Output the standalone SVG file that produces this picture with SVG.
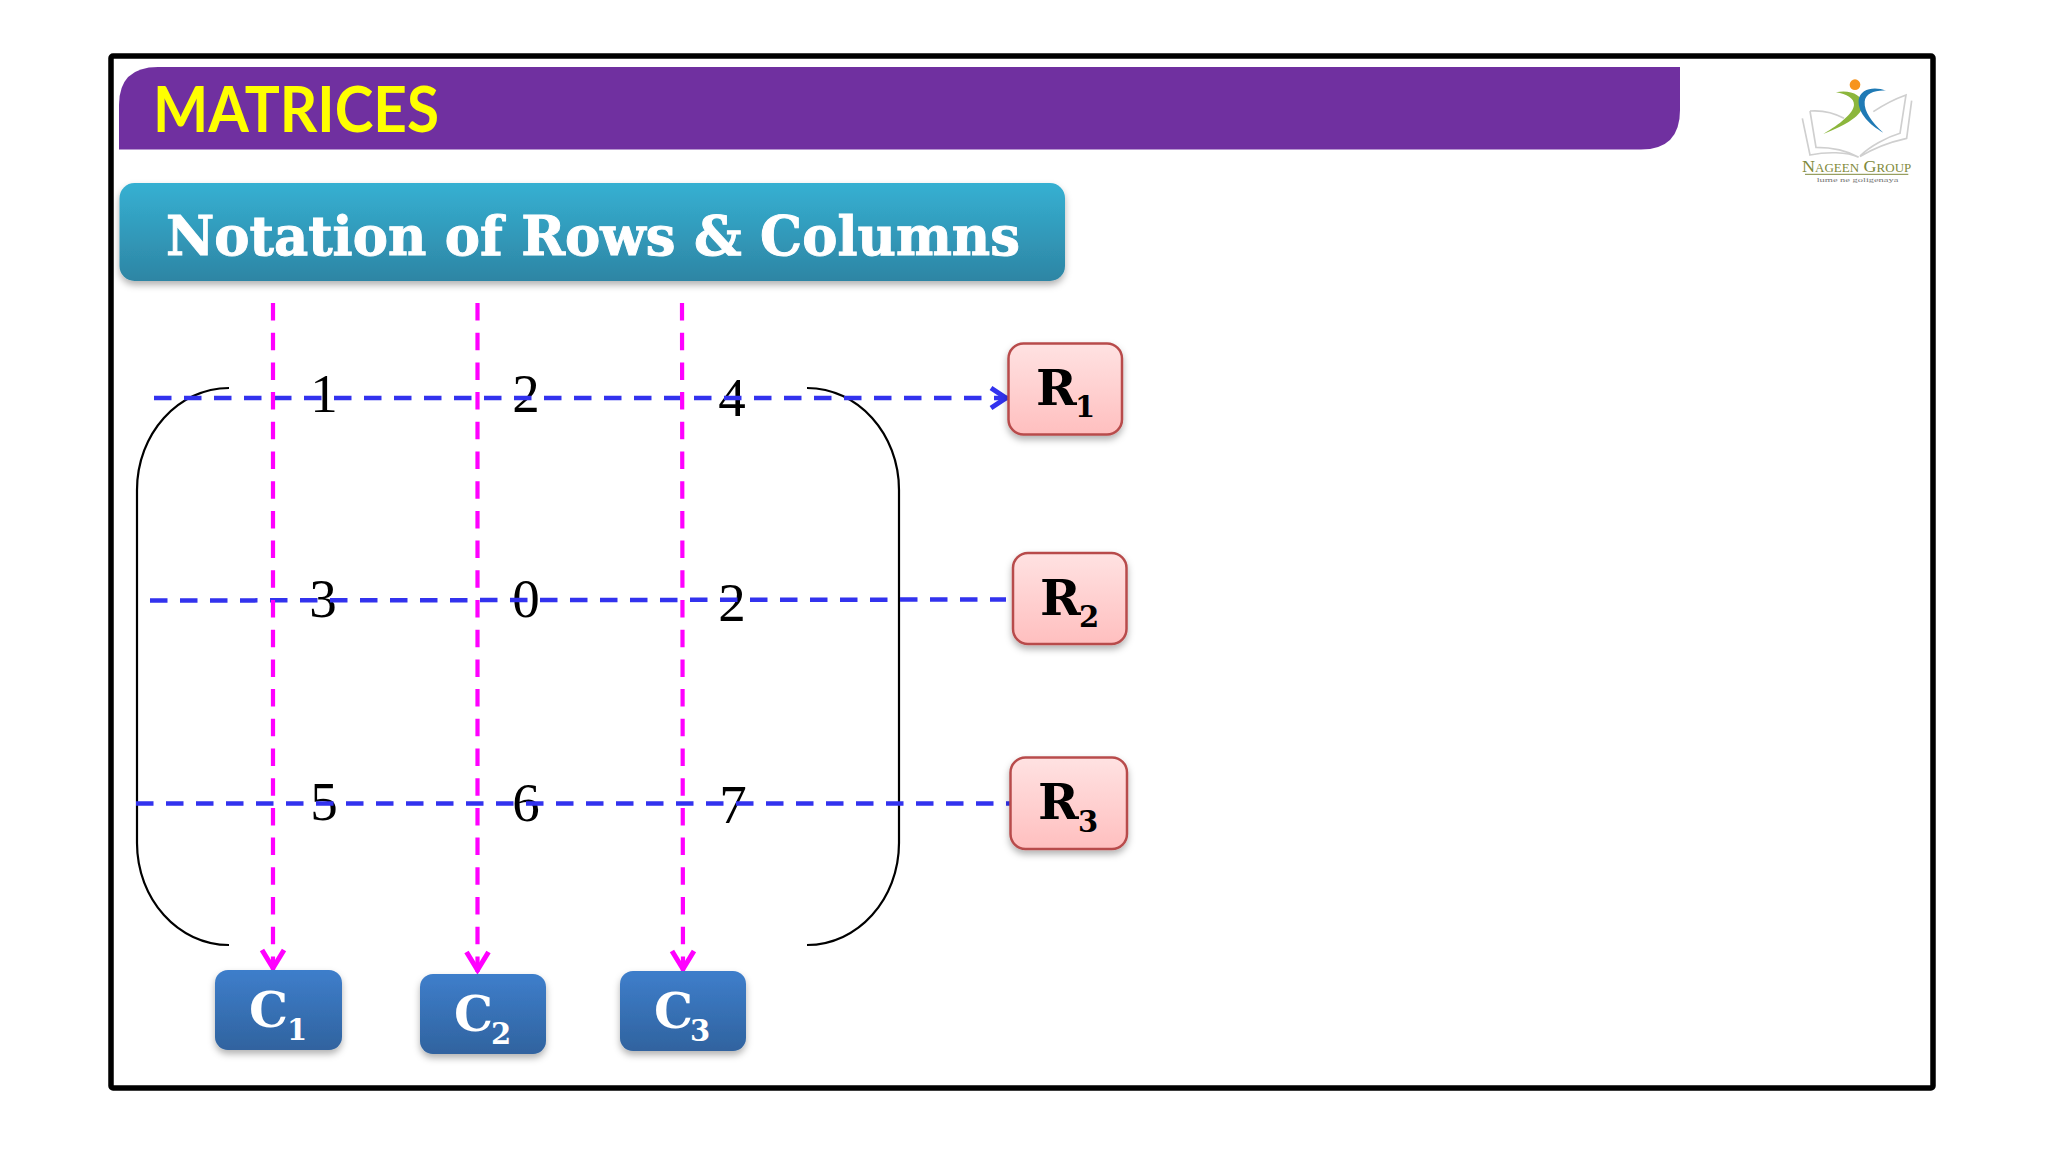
<svg xmlns="http://www.w3.org/2000/svg" width="2048" height="1152" viewBox="0 0 2048 1152">
<style>
.num{font-family:"Liberation Serif","Times New Roman",serif;font-size:55px;fill:#000;text-anchor:middle}
.lbl{font-family:"DejaVu Serif",serif;font-weight:700;font-size:49px;stroke-width:.8}
.sub{font-family:"DejaVu Serif",serif;font-weight:700;font-size:29px}
.rbox{fill:url(#pink);stroke:#b84c4c;stroke-width:2.5;filter:url(#sh)}
.cbox{fill:url(#blue);filter:url(#sh)}
.blue{fill:none;stroke:#3232ee;stroke-width:4.5;stroke-dasharray:17.5 12.5}
.mag{fill:none;stroke:#ff00ff;stroke-width:4.2;stroke-dasharray:17.5 12.2}
.br{fill:none;stroke:#000;stroke-width:2.2}
.pg{fill:none;stroke:#cfcfcf;stroke-width:5}
</style>
<defs>
<linearGradient id="teal" x1="0" y1="0" x2="0" y2="1"><stop offset="0" stop-color="#36b0d2"/><stop offset="1" stop-color="#2d85a4"/></linearGradient>
<linearGradient id="pink" x1="0" y1="0" x2="0" y2="1"><stop offset="0" stop-color="#ffe2e2"/><stop offset="1" stop-color="#ffbfbf"/></linearGradient>
<linearGradient id="blue" x1="0" y1="0" x2="0" y2="1"><stop offset="0" stop-color="#3e7ecb"/><stop offset="1" stop-color="#30639f"/></linearGradient>
<filter id="sh" x="-15%" y="-15%" width="130%" height="140%"><feDropShadow dx="0" dy="4" stdDeviation="3.5" flood-color="#000" flood-opacity=".3"/></filter>
<marker id="ab" markerUnits="userSpaceOnUse" markerWidth="24" markerHeight="24" refX="20" refY="12" orient="auto" overflow="visible"><path d="M3,2 L18,12 L3,22" fill="none" stroke="#3232ee" stroke-width="5"/></marker>
<marker id="am" markerUnits="userSpaceOnUse" markerWidth="26" markerHeight="26" refX="22" refY="13" orient="auto" overflow="visible"><path d="M2,2 L20,13 L2,24" fill="none" stroke="#ff00ff" stroke-width="5"/></marker>
</defs>
<rect width="2048" height="1152" fill="#fff"/>
<rect id="frame" x="111" y="56" width="1822" height="1032" rx="2" fill="#fff" stroke="#000" stroke-width="5.500"/>
<g id="title">
<path d="M119 149.500 V105 Q119 67 158 67 H1680 V110 Q1680 149.500 1641 149.500 Z" fill="#7030a0"/>
<text x="153" y="132" font-family="Lato,'Liberation Sans',sans-serif" font-weight="700" font-size="63" fill="#ffff00" textLength="286" lengthAdjust="spacingAndGlyphs">MATRICES</text>
</g>
<g id="heading">
<rect x="119.500" y="183" width="945.500" height="98" rx="15" fill="url(#teal)" filter="url(#sh)"/>
<text x="166" y="255" font-family="'DejaVu Serif',serif" font-weight="700" font-size="55" fill="#fff" stroke="#fff" stroke-width="1" textLength="854" lengthAdjust="spacingAndGlyphs">Notation of Rows &amp; Columns</text>
</g>
<g id="logo" transform="translate(1760 50) scale(.3333)">
<path class="pg" d="M150 183C190 180 225 190 252 205M150 183L168 292C215 292 262 302 296 322M127 205L150 315C200 305 260 305 296 322"/>
<path class="pg" d="M340 185C370 165 410 145 438 135L420 250C380 262 330 288 300 318M455 152L440 265C395 275 340 295 300 320"/>
<circle cx="285" cy="104" r="16" fill="#f7941d"/>
<path d="M228 127C270 118 308 135 308 165C308 195 260 225 190 252C240 222 280 190 282 165C283 145 260 132 228 127Z" fill="#8cb63c"/>
<path d="M378 122C345 108 300 115 296 150C293 190 330 225 370 248C335 215 312 185 314 155C316 130 345 120 378 122Z" fill="#1f7ab5"/>
<text x="126" y="367" font-family="'Liberation Serif',serif" font-size="50" fill="#7f8a3c" font-variant="small-caps" textLength="328" lengthAdjust="spacingAndGlyphs">Nageen Group</text>
<path d="M135 373H445" stroke="#7f8a3c" stroke-width="3"/>
<text x="170" y="396" font-family="'Liberation Serif',serif" font-size="20" fill="#777" textLength="245" lengthAdjust="spacingAndGlyphs">lume ne goligenaya</text>
</g>
<g id="matrix">
<path class="br" d="M229 388C178 388 137 434 137 490V843C137 899 178 945 229 945"/>
<path class="br" d="M807 388C858 388 899 434 899 490V843C899 899 858 945 807 945"/>
<text class="num" x="324" y="412">1</text><text class="num" x="526" y="412">2</text><text class="num" x="732" y="416">4</text>
<text class="num" x="323" y="617">3</text><text class="num" x="526" y="617">0</text><text class="num" x="732" y="621">2</text>
<text class="num" x="324" y="820">5</text><text class="num" x="526" y="821">6</text><text class="num" x="733" y="823">7</text>
</g>
<g id="connectors">
<path class="blue" d="M154 398H1008" marker-end="url(#ab)"/>
<path class="blue" d="M150 600.500L1006 599.500"/>
<path class="blue" d="M136 803.500H1010"/>
<path class="mag" d="M273 303V970" marker-end="url(#am)"/>
<path class="mag" d="M477.500 303V972" marker-end="url(#am)"/>
<path class="mag" d="M682 303L683 971" marker-end="url(#am)"/>
</g>
<g id="R1"><rect class="rbox" x="1008.500" y="343.500" width="113.500" height="91" rx="15"/><text class="lbl" x="1036" y="405">R</text><text class="sub" x="1075" y="417">1</text></g>
<g id="R2"><rect class="rbox" x="1013" y="553" width="113.500" height="91" rx="15"/><text class="lbl" x="1040" y="615">R</text><text class="sub" x="1079" y="627">2</text></g>
<g id="R3"><rect class="rbox" x="1010.500" y="757.500" width="116.500" height="91.500" rx="15"/><text class="lbl" x="1038" y="819">R</text><text class="sub" x="1078" y="832">3</text></g>
<g id="C1"><rect class="cbox" x="215" y="970" width="127" height="80" rx="13"/><text class="lbl" x="249" y="1027" fill="#fff">C</text><text class="sub" x="287" y="1040" fill="#fff">1</text></g>
<g id="C2"><rect class="cbox" x="420" y="974" width="126" height="80" rx="13"/><text class="lbl" x="454" y="1031" fill="#fff">C</text><text class="sub" x="491" y="1044" fill="#fff">2</text></g>
<g id="C3"><rect class="cbox" x="620" y="971" width="126" height="80" rx="13"/><text class="lbl" x="654" y="1028" fill="#fff">C</text><text class="sub" x="690" y="1041" fill="#fff">3</text></g>
</svg>
